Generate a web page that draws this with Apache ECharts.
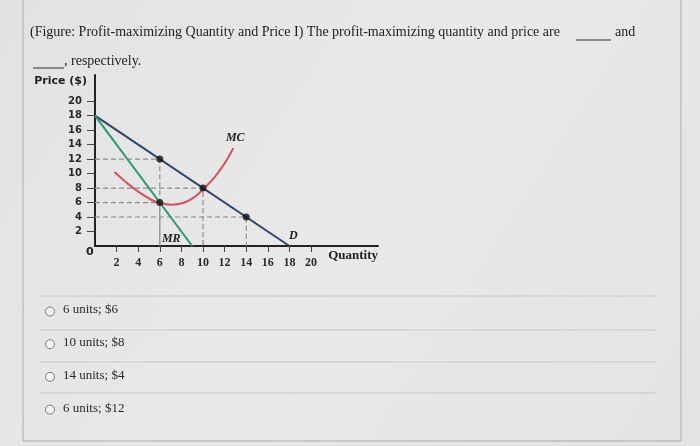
<!DOCTYPE html>
<html>
<head>
<meta charset="utf-8">
<script src="https://cdn.jsdelivr.net/npm/echarts@6/dist/echarts.min.js"></script>
<style>
  html, body { margin: 0; padding: 0; background: #e5e5e5; }
  #main { width: 700px; height: 446px; }
</style>
</head>
<body>
<div id="main"></div>
<script>
// data
var quantityTicks = [2, 4, 6, 8, 10, 12, 14, 16, 18, 20];
var priceTicks = [2, 4, 6, 8, 10, 12, 14, 16, 18, 20];
var demand = [[0, 18], [18, 0]];
var marginalRevenue = [[0, 18], [9, 0]];
var marginalCost = [[1.8, 10.2], [2.8, 8.9], [4, 7.5], [5.25, 6.35], [6, 5.95], [7.1, 5.7], [8.3, 6.0], [9.25, 6.8], [10.1, 7.95], [11.1, 9.55], [12, 11.4], [12.8, 13.5]];
var keyPoints = [[6, 12], [10, 8], [14, 4], [6, 6]];
var answers = ['6 units; $6', '10 units; $8', '14 units; $4', '6 units; $12'];

var myChart = echarts.init(document.getElementById('main'));

// put a text label on the last point of a curve
function withEndLabel(points, text, offset) {
  return points.map(function (p, i) {
    if (i < points.length - 1) return p;
    return {
      value: p,
      symbol: 'circle',
      symbolSize: 1,
      label: {
        show: true,
        position: 'inside',
        formatter: text,
        offset: offset,
        fontFamily: 'Liberation Serif',
        fontStyle: 'italic',
        fontWeight: 'bold',
        fontSize: 12,
        color: '#222'
      }
    };
  });
}

// dashed guides from the axes to each marked point
var guideSeries = keyPoints.map(function (p) {
  return {
    type: 'line',
    data: [[0, p[1]], p, [p[0], 0]],
    symbol: 'none',
    silent: true,
    z: 1,
    lineStyle: { color: '#8c8c8c', width: 1.2, type: [5, 3] }
  };
});

// question text and answer list
var graphics = [
  { type: 'rect', shape: { x: 23, y: -2, width: 658, height: 443 }, style: { fill: 'none', stroke: '#a9a9a9', lineWidth: 1 }, z: -1 },
  { type: 'text', left: 30, top: 25, style: { text: '(Figure: Profit-maximizing Quantity and Price I) The profit-maximizing quantity and price are', font: '14px "Liberation Serif"', fill: '#1e1e1e' } },
  { type: 'line', shape: { x1: 576, y1: 40, x2: 611, y2: 40 }, style: { stroke: '#333', lineWidth: 1 } },
  { type: 'text', left: 615, top: 25, style: { text: 'and', font: '14px "Liberation Serif"', fill: '#1e1e1e' } },
  { type: 'line', shape: { x1: 33, y1: 68, x2: 64, y2: 68 }, style: { stroke: '#333', lineWidth: 1 } },
  { type: 'text', left: 64, top: 54, style: { text: ', respectively.', font: '14px "Liberation Serif"', fill: '#1e1e1e' } },
  { type: 'text', left: 86, top: 247, style: { text: '0', font: 'bold 11px "DejaVu Sans"', fill: '#222' } }
];
[296, 330, 362, 393].forEach(function (y) {
  graphics.push({ type: 'line', shape: { x1: 40, y1: y, x2: 655, y2: y }, style: { stroke: '#c6c6c6', lineWidth: 1 } });
});
answers.forEach(function (a, i) {
  var y = 311.5 + i * 32.7;
  graphics.push({ type: 'circle', shape: { cx: 50, cy: y, r: 4.5 }, style: { fill: '#f4f4f4', stroke: '#7a7a7a', lineWidth: 1 } });
  graphics.push({ type: 'text', left: 63, top: y - 8, style: { text: a, font: '13px "Liberation Serif"', fill: '#2a2a2a' } });
});

var option = {
  backgroundColor: new echarts.graphic.LinearGradient(0, 0, 1, 1, [
    { offset: 0, color: '#e2e2e2' },
    { offset: 0.5, color: '#e9e9e9' },
    { offset: 1, color: '#e3e3e3' }
  ]),
  animation: false,
  graphic: graphics,
  grid: { left: 95, right: 322, top: 75, bottom: 200 },
  xAxis: {
    type: 'value',
    min: 0,
    max: 26.2,
    name: 'Quantity',
    nameLocation: 'end',
    nameGap: 0,
    nameTextStyle: {
      align: 'right',
      verticalAlign: 'top',
      padding: [3, 0, 0, 0],
      fontFamily: 'Liberation Serif',
      fontWeight: 'bold',
      fontSize: 13,
      color: '#222'
    },
    axisLine: { show: true, lineStyle: { color: '#222', width: 2 } },
    axisTick: { show: true, customValues: quantityTicks, length: 6, lineStyle: { color: '#444', width: 1 } },
    axisLabel: {
      customValues: quantityTicks,
      margin: 11,
      fontFamily: 'Liberation Serif',
      fontWeight: 'bold',
      fontSize: 12,
      color: '#2a2a2a'
    },
    splitLine: { show: false }
  },
  yAxis: {
    type: 'value',
    min: 0,
    max: 23.6,
    name: 'Price ($)',
    nameLocation: 'end',
    nameGap: -6,
    nameTextStyle: {
      align: 'right',
      verticalAlign: 'middle',
      padding: [0, 8, 0, 0],
      fontFamily: 'DejaVu Sans',
      fontWeight: 'bold',
      fontSize: 11,
      color: '#222'
    },
    axisLine: { show: true, lineStyle: { color: '#222', width: 2 } },
    axisTick: { show: true, customValues: priceTicks, length: 8, lineStyle: { color: '#444', width: 1 } },
    axisLabel: {
      customValues: priceTicks,
      margin: 13,
      fontFamily: 'DejaVu Sans',
      fontWeight: 'bold',
      fontSize: 10,
      color: '#2a2a2a'
    },
    splitLine: { show: false }
  },
  series: guideSeries.concat([
    {
      name: 'D',
      type: 'line',
      data: withEndLabel(demand, 'D', [4, -10]),
      symbol: 'none',
      z: 3,
      itemStyle: { color: '#2e4468' },
      lineStyle: { color: '#2e4468', width: 2 }
    },
    {
      name: 'MR',
      type: 'line',
      data: withEndLabel(marginalRevenue, 'MR', [-21, -7]),
      symbol: 'none',
      z: 3,
      itemStyle: { color: '#2a9a6a' },
      lineStyle: { color: '#2a9a6a', width: 2 }
    },
    {
      name: 'MC',
      type: 'line',
      data: withEndLabel(marginalCost, 'MC', [2, -10]),
      smooth: 0.4,
      symbol: 'none',
      z: 3,
      itemStyle: { color: '#cf5560' },
      lineStyle: { color: '#cf5560', width: 2 }
    },
    {
      type: 'scatter',
      data: keyPoints,
      symbolSize: 7,
      z: 5,
      itemStyle: { color: '#111' }
    }
  ])
};
myChart.setOption(option);
</script>
</body>
</html>
